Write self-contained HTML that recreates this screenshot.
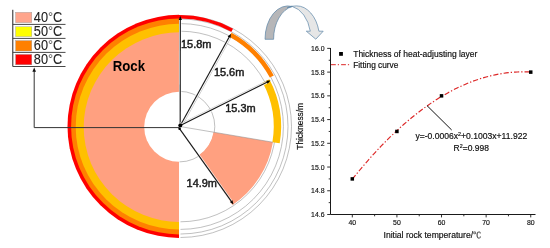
<!DOCTYPE html>
<html><head><meta charset="utf-8"><title>Figure</title>
<style>html,body{margin:0;padding:0;background:#fff}svg{display:block}</style></head>
<body>
<svg width="550" height="248" viewBox="0 0 550 248">
<rect width="550" height="248" fill="#fff"/>
<clipPath id="lh"><rect x="0" y="0" width="179" height="248"/></clipPath>
<g clip-path="url(#lh)">
<ellipse cx="180" cy="126.4" rx="112.5" ry="111.6" fill="#FF0000"/>
<ellipse cx="180" cy="126.4" rx="108.9" ry="108.0" fill="#FF8000"/>
<ellipse cx="180" cy="126.65" rx="104.3" ry="102.95" fill="#FFC000"/>
<ellipse cx="180" cy="127.1" rx="96.3" ry="94.9" fill="#FFA080"/>
</g>
<circle cx="179.2" cy="126.8" r="35.0" fill="#fff"/>
<path d="M180.50 31.20A95.3 95.3 0 0 1 180.50 221.80" fill="none" stroke="#8c8c8c" stroke-width="0.55"/>
<path d="M180.50 23.60A102.9 102.9 0 0 1 180.50 229.40" fill="none" stroke="#8c8c8c" stroke-width="0.55"/>
<path d="M180.50 19.00A107.5 107.5 0 0 1 180.50 234.00" fill="none" stroke="#8c8c8c" stroke-width="0.55"/>
<path d="M180.50 15.50A111.0 111.0 0 0 1 180.50 237.50" fill="none" stroke="#8c8c8c" stroke-width="0.55"/>
<path d="M179.50 91.30A35.0 35.0 0 0 1 179.50 161.90" fill="none" stroke="#8c8c8c" stroke-width="0.55"/>
<path d="M272.90 142.23A94.7 94.7 0 0 1 232.46 205.11L198.79 155.20A34.5 34.5 0 0 0 213.53 132.29Z" fill="#FFA080"/>
<path d="M178.53 15.10A111.5 111.5 0 0 1 233.04 28.80L231.36 31.87A108.0 108.0 0 0 0 178.56 18.60Z" fill="#FF0000"/>
<path d="M231.52 32.75A107.3 107.3 0 0 1 273.80 75.40L269.84 77.55A102.8 102.8 0 0 0 229.34 36.69Z" fill="#FF8000"/>
<path d="M269.37 79.22A101.6 101.6 0 0 1 279.71 143.37L272.41 142.15A94.2 94.2 0 0 0 262.83 82.67Z" fill="#FFC000"/>
<line x1="180.5" y1="126.6" x2="272.90" y2="142.23" stroke="#8c8c8c" stroke-width="0.55"/>
<line x1="180.2" y1="125.5" x2="180.30" y2="20.00" stroke="#fff" stroke-opacity="0.85" stroke-width="2.6"/><line x1="180.2" y1="125.5" x2="180.30" y2="20.00" stroke="#1a1a1a" stroke-width="1.15"/><path d="M180.30 16.00L181.90 20.00L178.70 20.00Z" fill="#000"/>
<line x1="182" y1="126" x2="230.6" y2="38" stroke="#9a9a9a" stroke-width="0.5"/>
<line x1="181" y1="123.6" x2="266" y2="81.2" stroke="#9a9a9a" stroke-width="0.5"/>
<line x1="180.3" y1="125.5" x2="229.06" y2="37.30" stroke="#fff" stroke-opacity="0.85" stroke-width="2.6"/><line x1="180.3" y1="125.5" x2="229.06" y2="37.30" stroke="#1a1a1a" stroke-width="1.15"/><path d="M231.00 33.80L230.46 38.07L227.66 36.53Z" fill="#000"/>
<line x1="180.3" y1="125.5" x2="266.92" y2="82.29" stroke="#fff" stroke-opacity="0.85" stroke-width="2.6"/><line x1="180.3" y1="125.5" x2="266.92" y2="82.29" stroke="#1a1a1a" stroke-width="1.15"/><path d="M270.50 80.50L267.63 83.72L266.21 80.85Z" fill="#000"/>
<line x1="179.5" y1="128.6" x2="231.18" y2="201.14" stroke="#fff" stroke-opacity="0.85" stroke-width="2.6"/><line x1="179.5" y1="128.6" x2="231.18" y2="201.14" stroke="#1a1a1a" stroke-width="1.15"/><path d="M233.50 204.40L229.88 202.07L232.48 200.21Z" fill="#000"/>
<path d="M179.5 127.6H34.2V71" fill="none" stroke="#333" stroke-width="1"/>
<path d="M34.2 67.4L32.4 71.8H36Z" fill="#111"/>
<circle cx="180.3" cy="125.6" r="2" fill="#000"/>
<circle cx="179.6" cy="128.8" r="1.3" fill="#000"/>
<text x="112.7" y="71.2" font-family="Liberation Sans, Arial, sans-serif" font-weight="bold" font-size="14.5" textLength="32.3" lengthAdjust="spacingAndGlyphs" fill="#000">Rock</text>
<text x="181" y="48.1" font-family="Liberation Sans, Arial, sans-serif" font-size="10.1" textLength="30.4" lengthAdjust="spacingAndGlyphs" fill="#1c1c1c" stroke="#1c1c1c" stroke-width="0.45">15.8m</text>
<text x="213.9" y="76" font-family="Liberation Sans, Arial, sans-serif" font-size="10.1" textLength="30.4" lengthAdjust="spacingAndGlyphs" fill="#1c1c1c" stroke="#1c1c1c" stroke-width="0.45">15.6m</text>
<text x="225.2" y="111.9" font-family="Liberation Sans, Arial, sans-serif" font-size="10.1" textLength="30.4" lengthAdjust="spacingAndGlyphs" fill="#1c1c1c" stroke="#1c1c1c" stroke-width="0.45">15.3m</text>
<text x="186.6" y="186.8" font-family="Liberation Sans, Arial, sans-serif" font-size="10.1" textLength="30.4" lengthAdjust="spacingAndGlyphs" fill="#1c1c1c" stroke="#1c1c1c" stroke-width="0.45">14.9m</text>
<path d="M12.8 9.8V66.5" stroke="#222" stroke-width="1" fill="none"/>
<line x1="12.8" y1="24.4" x2="65.5" y2="24.4" stroke="#333" stroke-width="0.9"/>
<line x1="12.8" y1="38.4" x2="65.5" y2="38.4" stroke="#333" stroke-width="0.9"/>
<line x1="12.8" y1="52.4" x2="65.5" y2="52.4" stroke="#333" stroke-width="0.9"/>
<line x1="12.8" y1="66.5" x2="65.5" y2="66.5" stroke="#333" stroke-width="0.9"/>
<rect x="15.6" y="12.3" width="16.2" height="10.40" fill="#FFA58C" stroke="#999" stroke-width="0.4"/>
<text x="33.8" y="21.90" font-family="Liberation Sans, Noto Sans CJK SC, sans-serif" font-size="14.5" textLength="28.5" lengthAdjust="spacingAndGlyphs" fill="#222" stroke="#222" stroke-width="0.1">40<tspan fill="#555" stroke="none">°</tspan>C</text>
<rect x="15.6" y="26.8" width="16.2" height="9.80" fill="#FFFF00" stroke="#999" stroke-width="0.4"/>
<text x="33.8" y="35.80" font-family="Liberation Sans, Noto Sans CJK SC, sans-serif" font-size="14.5" textLength="28.5" lengthAdjust="spacingAndGlyphs" fill="#222" stroke="#222" stroke-width="0.1">50<tspan fill="#555" stroke="none">°</tspan>C</text>
<rect x="15.6" y="40.6" width="16.2" height="10.40" fill="#FF8000" stroke="#999" stroke-width="0.4"/>
<text x="33.8" y="50.20" font-family="Liberation Sans, Noto Sans CJK SC, sans-serif" font-size="14.5" textLength="28.5" lengthAdjust="spacingAndGlyphs" fill="#222" stroke="#222" stroke-width="0.1">60<tspan fill="#555" stroke="none">°</tspan>C</text>
<rect x="15.6" y="54.4" width="16.2" height="10.40" fill="#FF0000" stroke="#999" stroke-width="0.4"/>
<text x="33.8" y="64.00" font-family="Liberation Sans, Noto Sans CJK SC, sans-serif" font-size="14.5" textLength="28.5" lengthAdjust="spacingAndGlyphs" fill="#222" stroke="#222" stroke-width="0.1">80<tspan fill="#555" stroke="none">°</tspan>C</text>
<g stroke="#5a84a6" stroke-width="0.7" stroke-linejoin="round">
<path d="M265.00 39.3A23 33.4 0 0 1 292.30 6.49A23 33.4 0 0 0 273.60 39.3Z" fill="#b6b6b8"/>
<path d="M287.30 7.69Q290.30 5.89 296.60 5.90A23 33.4 0 0 1 318.91 31.2H323.2L315.8 39.2L306.3 31.2H310.31A23 33.4 0 0 0 292.30 6.49Q289.80 6.79 287.30 7.69Z" fill="#e6e6e6"/>
</g>
<path d="M330.5 48V214.5H535.5" fill="none" stroke="#1a1a1a" stroke-width="1"/>
<line x1="327.2" y1="214.50" x2="330.5" y2="214.50" stroke="#1a1a1a" stroke-width="0.9"/>
<text x="324.5" y="217.00" font-family="Liberation Sans, Arial, sans-serif" font-size="6.9" text-anchor="end" fill="#111" stroke="#111" stroke-width="0.15">14.6</text>
<line x1="328.7" y1="202.64" x2="330.5" y2="202.64" stroke="#1a1a1a" stroke-width="0.9"/>
<line x1="327.2" y1="190.77" x2="330.5" y2="190.77" stroke="#1a1a1a" stroke-width="0.9"/>
<text x="324.5" y="193.27" font-family="Liberation Sans, Arial, sans-serif" font-size="6.9" text-anchor="end" fill="#111" stroke="#111" stroke-width="0.15">14.8</text>
<line x1="328.7" y1="178.91" x2="330.5" y2="178.91" stroke="#1a1a1a" stroke-width="0.9"/>
<line x1="327.2" y1="167.04" x2="330.5" y2="167.04" stroke="#1a1a1a" stroke-width="0.9"/>
<text x="324.5" y="169.54" font-family="Liberation Sans, Arial, sans-serif" font-size="6.9" text-anchor="end" fill="#111" stroke="#111" stroke-width="0.15">15.0</text>
<line x1="328.7" y1="155.18" x2="330.5" y2="155.18" stroke="#1a1a1a" stroke-width="0.9"/>
<line x1="327.2" y1="143.31" x2="330.5" y2="143.31" stroke="#1a1a1a" stroke-width="0.9"/>
<text x="324.5" y="145.81" font-family="Liberation Sans, Arial, sans-serif" font-size="6.9" text-anchor="end" fill="#111" stroke="#111" stroke-width="0.15">15.2</text>
<line x1="328.7" y1="131.45" x2="330.5" y2="131.45" stroke="#1a1a1a" stroke-width="0.9"/>
<line x1="327.2" y1="119.58" x2="330.5" y2="119.58" stroke="#1a1a1a" stroke-width="0.9"/>
<text x="324.5" y="122.08" font-family="Liberation Sans, Arial, sans-serif" font-size="6.9" text-anchor="end" fill="#111" stroke="#111" stroke-width="0.15">15.4</text>
<line x1="328.7" y1="107.71" x2="330.5" y2="107.71" stroke="#1a1a1a" stroke-width="0.9"/>
<line x1="327.2" y1="95.85" x2="330.5" y2="95.85" stroke="#1a1a1a" stroke-width="0.9"/>
<text x="324.5" y="98.35" font-family="Liberation Sans, Arial, sans-serif" font-size="6.9" text-anchor="end" fill="#111" stroke="#111" stroke-width="0.15">15.6</text>
<line x1="328.7" y1="83.99" x2="330.5" y2="83.99" stroke="#1a1a1a" stroke-width="0.9"/>
<line x1="327.2" y1="72.12" x2="330.5" y2="72.12" stroke="#1a1a1a" stroke-width="0.9"/>
<text x="324.5" y="74.62" font-family="Liberation Sans, Arial, sans-serif" font-size="6.9" text-anchor="end" fill="#111" stroke="#111" stroke-width="0.15">15.8</text>
<line x1="328.7" y1="60.25" x2="330.5" y2="60.25" stroke="#1a1a1a" stroke-width="0.9"/>
<line x1="327.2" y1="48.39" x2="330.5" y2="48.39" stroke="#1a1a1a" stroke-width="0.9"/>
<text x="324.5" y="50.89" font-family="Liberation Sans, Arial, sans-serif" font-size="6.9" text-anchor="end" fill="#111" stroke="#111" stroke-width="0.15">16.0</text>
<line x1="352.30" y1="214.5" x2="352.30" y2="217.4" stroke="#1a1a1a" stroke-width="0.9"/>
<text x="352.30" y="225.4" font-family="Liberation Sans, Arial, sans-serif" font-size="6.9" text-anchor="middle" fill="#111" stroke="#111" stroke-width="0.15">40</text>
<line x1="396.91" y1="214.5" x2="396.91" y2="217.4" stroke="#1a1a1a" stroke-width="0.9"/>
<text x="396.91" y="225.4" font-family="Liberation Sans, Arial, sans-serif" font-size="6.9" text-anchor="middle" fill="#111" stroke="#111" stroke-width="0.15">50</text>
<line x1="441.52" y1="214.5" x2="441.52" y2="217.4" stroke="#1a1a1a" stroke-width="0.9"/>
<text x="441.52" y="225.4" font-family="Liberation Sans, Arial, sans-serif" font-size="6.9" text-anchor="middle" fill="#111" stroke="#111" stroke-width="0.15">60</text>
<line x1="486.13" y1="214.5" x2="486.13" y2="217.4" stroke="#1a1a1a" stroke-width="0.9"/>
<text x="486.13" y="225.4" font-family="Liberation Sans, Arial, sans-serif" font-size="6.9" text-anchor="middle" fill="#111" stroke="#111" stroke-width="0.15">70</text>
<line x1="530.74" y1="214.5" x2="530.74" y2="217.4" stroke="#1a1a1a" stroke-width="0.9"/>
<text x="530.74" y="225.4" font-family="Liberation Sans, Arial, sans-serif" font-size="6.9" text-anchor="middle" fill="#111" stroke="#111" stroke-width="0.15">80</text>
<line x1="374.61" y1="214.5" x2="374.61" y2="216.3" stroke="#1a1a1a" stroke-width="0.9"/>
<line x1="419.22" y1="214.5" x2="419.22" y2="216.3" stroke="#1a1a1a" stroke-width="0.9"/>
<line x1="463.83" y1="214.5" x2="463.83" y2="216.3" stroke="#1a1a1a" stroke-width="0.9"/>
<line x1="508.44" y1="214.5" x2="508.44" y2="216.3" stroke="#1a1a1a" stroke-width="0.9"/>
<polyline points="352.30,179.23 354.53,176.45 356.76,173.71 358.99,171.00 361.22,168.33 363.45,165.70 365.68,163.11 367.91,160.55 370.14,158.02 372.37,155.54 374.61,153.09 376.84,150.67 379.07,148.29 381.30,145.95 383.53,143.65 385.76,141.38 387.99,139.15 390.22,136.95 392.45,134.79 394.68,132.67 396.91,130.58 399.14,128.53 401.37,126.52 403.60,124.54 405.83,122.60 408.06,120.70 410.29,118.83 412.52,117.00 414.75,115.20 416.98,113.44 419.22,111.72 421.45,110.03 423.68,108.38 425.91,106.77 428.14,105.19 430.37,103.65 432.60,102.15 434.83,100.68 437.06,99.25 439.29,97.86 441.52,96.50 443.75,95.18 445.98,93.89 448.21,92.64 450.44,91.43 452.67,90.25 454.90,89.11 457.13,88.01 459.36,86.94 461.59,85.91 463.83,84.92 466.06,83.96 468.29,83.04 470.52,82.15 472.75,81.30 474.98,80.49 477.21,79.71 479.44,78.97 481.67,78.27 483.90,77.60 486.13,76.97 488.36,76.38 490.59,75.82 492.82,75.30 495.05,74.82 497.28,74.37 499.51,73.96 501.74,73.58 503.97,73.24 506.20,72.94 508.44,72.67 510.67,72.44 512.90,72.25 515.13,72.09 517.36,71.97 519.59,71.89 521.82,71.84 524.05,71.83 526.28,71.85 528.51,71.91 530.74,72.01" fill="none" stroke="#dc2626" stroke-width="1.15" stroke-dasharray="5.2 2 1.3 2"/>
<rect x="350.55" y="177.15" width="3.5" height="3.5" fill="#000"/>
<rect x="395.16" y="129.69" width="3.5" height="3.5" fill="#000"/>
<rect x="439.77" y="94.10" width="3.5" height="3.5" fill="#000"/>
<rect x="528.99" y="70.37" width="3.5" height="3.5" fill="#000"/>
<rect x="339.1" y="52" width="3.8" height="3.8" fill="#000"/>
<text x="353.2" y="56.6" font-family="Liberation Sans, Arial, sans-serif" font-size="8.3" textLength="124.2" lengthAdjust="spacingAndGlyphs" fill="#111" stroke="#111" stroke-width="0.18">Thickness of heat-adjusting layer</text>
<line x1="331" y1="64.7" x2="349.2" y2="64.7" stroke="#dc2626" stroke-width="1" stroke-dasharray="4.8 2 1.2 2.1"/>
<text x="353.2" y="67.6" font-family="Liberation Sans, Arial, sans-serif" font-size="8.3" fill="#111" stroke="#111" stroke-width="0.18">Fitting curve</text>
<line x1="427" y1="105.6" x2="451.7" y2="130" stroke="#111" stroke-width="1"/>
<text x="415.4" y="139.4" font-family="Liberation Sans, Arial, sans-serif" font-size="8.3" textLength="111.8" lengthAdjust="spacingAndGlyphs" fill="#111" stroke="#111" stroke-width="0.18">y=-0.0006x<tspan font-size="5.2" dy="-3.2">2</tspan><tspan dy="3.2">+0.1003x+11.922</tspan></text>
<text x="453.6" y="151.2" font-family="Liberation Sans, Arial, sans-serif" font-size="8.3" textLength="35.3" lengthAdjust="spacingAndGlyphs" fill="#111" stroke="#111" stroke-width="0.18">R<tspan font-size="5.2" dy="-3.2">2</tspan><tspan dy="3.2">=0.998</tspan></text>
<text x="383.5" y="238.3" font-family="Liberation Sans, Arial, sans-serif" font-size="8.3" textLength="89.6" lengthAdjust="spacingAndGlyphs" fill="#111" stroke="#111" stroke-width="0.18">Initial rock temperature/</text>
<text x="473" y="238.1" font-family="Noto Serif CJK SC, Noto Sans CJK SC, serif" font-size="8.2" fill="#333" stroke="#444" stroke-width="0.25">℃</text>
<text transform="translate(302.5 149.7) rotate(-90)" font-family="Liberation Sans, Arial, sans-serif" font-size="8.3" textLength="46.7" lengthAdjust="spacingAndGlyphs" fill="#111" stroke="#111" stroke-width="0.18">Thickness/m</text>
</svg>
</body></html>
